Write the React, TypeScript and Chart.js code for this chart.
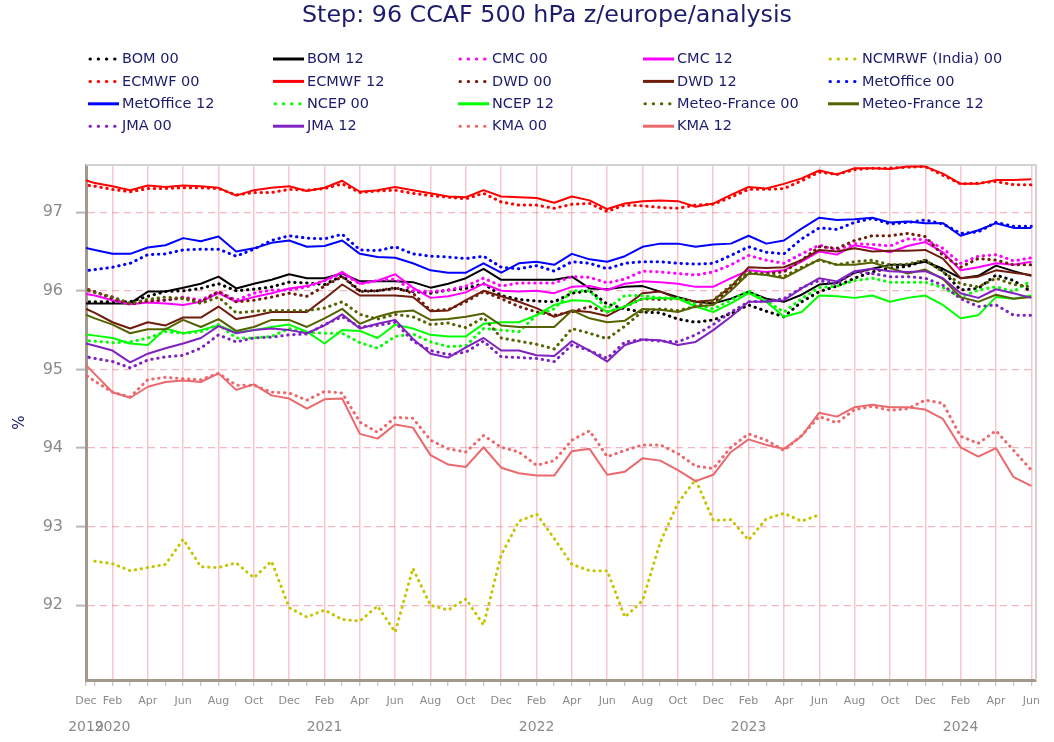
import React, { useEffect, useRef } from 'react';
import { Chart, registerables } from 'chart.js';

Chart.register(...registerables);

// ---------- data ----------
const DATES = [
  '2019-12',
  '2020-01', '2020-02', '2020-03', '2020-04', '2020-05', '2020-06', '2020-07', '2020-08', '2020-09', '2020-10', '2020-11', '2020-12',
  '2021-01', '2021-02', '2021-03', '2021-04', '2021-05', '2021-06', '2021-07', '2021-08', '2021-09', '2021-10', '2021-11', '2021-12',
  '2022-01', '2022-02', '2022-03', '2022-04', '2022-05', '2022-06', '2022-07', '2022-08', '2022-09', '2022-10', '2022-11', '2022-12',
  '2023-01', '2023-02', '2023-03', '2023-04', '2023-05', '2023-06', '2023-07', '2023-08', '2023-09', '2023-10', '2023-11', '2023-12',
  '2024-01', '2024-02', '2024-03', '2024-04', '2024-05', '2024-06',
];

const BOM_00 = [95.86, 95.86, 95.86, 95.86, 95.93, 95.99, 96.00, 96.03, 96.09, 96.00, 96.02, 96.05, 96.11, 96.10, 96.08, 96.19, 96.00, 96.00, 96.03, 95.99, 95.97, 96.01, 96.03, 96.09, 95.94, 95.89, 95.87, 95.86, 95.97, 96.00, 95.83, 95.77, 95.73, 95.72, 95.64, 95.60, 95.63, 95.71, 95.82, 95.74, 95.67, 95.86, 95.99, 96.06, 96.16, 96.24, 96.29, 96.31, 96.39, 96.25, 96.01, 96.03, 96.20, 96.13, 95.99];
const BOM_12 = [95.84, 95.84, 95.84, 95.84, 95.99, 95.99, 96.04, 96.09, 96.18, 96.03, 96.09, 96.14, 96.21, 96.16, 96.16, 96.22, 96.12, 96.12, 96.12, 96.11, 96.04, 96.09, 96.16, 96.28, 96.14, 96.14, 96.14, 96.14, 96.18, 96.03, 96.02, 96.05, 96.06, 95.99, 95.92, 95.86, 95.84, 95.90, 95.99, 95.90, 95.86, 95.95, 96.08, 96.10, 96.23, 96.28, 96.33, 96.33, 96.37, 96.28, 96.16, 96.19, 96.32, 96.25, 96.19];
const CMC_00 = [96.03, 95.98, 95.92, 95.83, 95.87, 95.88, 95.92, 95.88, 95.99, 95.88, 95.97, 96.01, 96.01, 96.05, 96.13, 96.22, 96.09, 96.13, 96.15, 96.00, 95.99, 96.01, 96.06, 96.16, 96.06, 96.10, 96.10, 96.10, 96.18, 96.17, 96.10, 96.15, 96.25, 96.24, 96.22, 96.20, 96.24, 96.33, 96.45, 96.39, 96.35, 96.47, 96.58, 96.52, 96.60, 96.59, 96.57, 96.66, 96.65, 96.54, 96.35, 96.44, 96.46, 96.38, 96.42];
const CMC_12 = [95.98, 95.94, 95.88, 95.83, 95.85, 95.84, 95.82, 95.86, 95.97, 95.86, 95.92, 95.97, 96.03, 96.06, 96.13, 96.24, 96.09, 96.13, 96.21, 96.04, 95.91, 95.93, 95.98, 96.09, 96.00, 95.99, 96.00, 95.97, 96.05, 96.06, 96.01, 96.09, 96.12, 96.11, 96.09, 96.05, 96.05, 96.16, 96.26, 96.24, 96.26, 96.37, 96.50, 96.46, 96.58, 96.54, 96.49, 96.57, 96.62, 96.49, 96.26, 96.30, 96.35, 96.33, 96.37];
const NCMRWF_00 = [null, 92.56, 92.53, 92.44, 92.48, 92.52, 92.84, 92.49, 92.48, 92.54, 92.35, 92.56, 91.97, 91.85, 91.94, 91.82, 91.80, 91.99, 91.66, 92.47, 92.00, 91.94, 92.08, 91.75, 92.64, 93.07, 93.16, 92.85, 92.52, 92.44, 92.44, 91.85, 92.06, 92.80, 93.30, 93.60, 93.08, 93.09, 92.83, 93.10, 93.17, 93.07, 93.15, null, null, null, null, null, null, null, null, null, null, null, null];
const ECMWF_00 = [97.36, 97.33, 97.29, 97.26, 97.30, 97.30, 97.31, 97.31, 97.30, 97.22, 97.25, 97.25, 97.29, 97.28, 97.30, 97.36, 97.25, 97.27, 97.28, 97.24, 97.21, 97.19, 97.17, 97.24, 97.13, 97.09, 97.09, 97.05, 97.10, 97.11, 97.01, 97.09, 97.08, 97.06, 97.05, 97.09, 97.10, 97.19, 97.29, 97.29, 97.30, 97.40, 97.51, 97.48, 97.54, 97.56, 97.56, 97.57, 97.58, 97.47, 97.36, 97.37, 97.39, 97.35, 97.35];
const ECMWF_12 = [97.44, 97.37, 97.33, 97.28, 97.34, 97.32, 97.34, 97.33, 97.31, 97.21, 97.28, 97.31, 97.33, 97.27, 97.31, 97.40, 97.26, 97.28, 97.32, 97.28, 97.24, 97.20, 97.19, 97.28, 97.20, 97.19, 97.18, 97.12, 97.20, 97.15, 97.04, 97.11, 97.14, 97.15, 97.14, 97.07, 97.11, 97.22, 97.32, 97.30, 97.36, 97.43, 97.53, 97.48, 97.56, 97.56, 97.55, 97.58, 97.58, 97.49, 97.36, 97.36, 97.41, 97.41, 97.42];
const DWD_00 = [96.06, 95.99, 95.90, 95.83, 95.87, 95.88, 95.91, 95.86, 95.99, 95.86, 95.88, 95.92, 95.97, 95.93, 96.06, 96.18, 95.99, 96.00, 96.04, 95.97, 95.75, 95.76, 95.86, 95.99, 95.90, 95.80, 95.73, 95.69, 95.73, 95.80, 95.73, 95.80, 95.90, 95.89, 95.90, 95.86, 95.84, 96.03, 96.22, 96.22, 96.24, 96.39, 96.56, 96.54, 96.64, 96.70, 96.70, 96.73, 96.69, 96.45, 96.30, 96.41, 96.39, 96.33, 96.33];
const DWD_12 = [95.82, 95.72, 95.60, 95.52, 95.60, 95.56, 95.66, 95.66, 95.80, 95.64, 95.68, 95.73, 95.73, 95.73, 95.90, 96.08, 95.94, 95.94, 95.94, 95.92, 95.74, 95.75, 95.88, 96.00, 95.93, 95.86, 95.78, 95.67, 95.75, 95.73, 95.68, 95.80, 95.97, 95.99, 95.90, 95.86, 95.88, 96.05, 96.30, 96.29, 96.30, 96.39, 96.52, 96.50, 96.54, 96.50, 96.51, 96.51, 96.52, 96.41, 96.16, 96.18, 96.26, 96.23, 96.20];
const METOFFICE_00 = [96.24, 96.27, 96.30, 96.35, 96.46, 96.47, 96.52, 96.53, 96.53, 96.44, 96.53, 96.64, 96.70, 96.67, 96.66, 96.72, 96.52, 96.51, 96.56, 96.47, 96.44, 96.43, 96.41, 96.44, 96.30, 96.28, 96.32, 96.25, 96.37, 96.35, 96.28, 96.35, 96.37, 96.37, 96.35, 96.34, 96.35, 96.45, 96.56, 96.49, 96.47, 96.66, 96.80, 96.78, 96.87, 96.92, 96.85, 96.87, 96.90, 96.85, 96.73, 96.75, 96.87, 96.82, 96.82];
const METOFFICE_12 = [96.57, 96.52, 96.47, 96.47, 96.55, 96.58, 96.67, 96.63, 96.69, 96.50, 96.54, 96.61, 96.64, 96.56, 96.57, 96.64, 96.47, 96.43, 96.42, 96.35, 96.26, 96.23, 96.23, 96.35, 96.23, 96.35, 96.37, 96.33, 96.47, 96.40, 96.37, 96.44, 96.56, 96.60, 96.60, 96.56, 96.59, 96.60, 96.70, 96.60, 96.64, 96.79, 96.93, 96.90, 96.91, 96.93, 96.87, 96.88, 96.86, 96.86, 96.70, 96.77, 96.86, 96.80, 96.80];
const NCEP_00 = [95.37, 95.36, 95.34, 95.35, 95.40, 95.48, 95.46, 95.48, 95.57, 95.40, 95.40, 95.42, 95.52, 95.47, 95.46, 95.46, 95.34, 95.27, 95.42, 95.45, 95.35, 95.29, 95.30, 95.52, 95.50, 95.48, 95.69, 95.77, 96.00, 96.00, 95.77, 95.94, 95.94, 95.91, 95.91, 95.83, 95.77, 95.88, 96.00, 95.87, 95.73, 95.90, 96.04, 96.06, 96.13, 96.16, 96.11, 96.11, 96.11, 96.04, 95.92, 96.01, 96.05, 95.99, 96.13];
const NCEP_12 = [95.46, 95.43, 95.40, 95.33, 95.31, 95.52, 95.46, 95.50, 95.56, 95.47, 95.50, 95.54, 95.57, 95.48, 95.33, 95.50, 95.49, 95.40, 95.57, 95.52, 95.44, 95.42, 95.42, 95.58, 95.60, 95.60, 95.69, 95.82, 95.88, 95.87, 95.73, 95.80, 95.90, 95.91, 95.90, 95.80, 95.73, 95.84, 95.97, 95.86, 95.67, 95.73, 95.94, 95.93, 95.91, 95.94, 95.86, 95.91, 95.94, 95.82, 95.65, 95.69, 95.92, 95.90, 95.94];
const METEOFRANCE_00 = [96.05, 95.98, 95.92, 95.84, 95.89, 95.92, 95.90, 95.84, 95.92, 95.72, 95.74, 95.75, 95.75, 95.75, 95.78, 95.86, 95.70, 95.64, 95.70, 95.67, 95.57, 95.59, 95.53, 95.66, 95.40, 95.36, 95.32, 95.26, 95.52, 95.46, 95.39, 95.55, 95.74, 95.77, 95.75, 95.80, 95.88, 96.07, 96.24, 96.21, 96.18, 96.30, 96.39, 96.33, 96.37, 96.39, 96.33, 96.34, 96.39, 96.24, 96.09, 96.05, 96.16, 96.08, 96.05];
const METEOFRANCE_12 = [95.74, 95.65, 95.57, 95.46, 95.51, 95.51, 95.63, 95.54, 95.64, 95.49, 95.54, 95.63, 95.63, 95.54, 95.65, 95.77, 95.58, 95.67, 95.73, 95.75, 95.63, 95.64, 95.67, 95.71, 95.56, 95.54, 95.54, 95.54, 95.75, 95.65, 95.60, 95.62, 95.77, 95.76, 95.73, 95.80, 95.82, 96.00, 96.22, 96.20, 96.16, 96.28, 96.40, 96.33, 96.33, 96.36, 96.29, 96.22, 96.27, 96.15, 95.92, 95.86, 95.95, 95.90, 95.92];
const JMA_00 = [95.18, 95.14, 95.10, 95.02, 95.12, 95.16, 95.18, 95.27, 95.44, 95.35, 95.40, 95.41, 95.44, 95.45, 95.57, 95.67, 95.54, 95.56, 95.60, 95.36, 95.24, 95.19, 95.22, 95.36, 95.16, 95.15, 95.14, 95.10, 95.31, 95.24, 95.14, 95.35, 95.38, 95.36, 95.35, 95.44, 95.57, 95.73, 95.86, 95.87, 95.90, 96.04, 96.13, 96.09, 96.24, 96.22, 96.18, 96.18, 96.16, 96.07, 95.90, 95.80, 95.82, 95.69, 95.69];
const JMA_12 = [95.36, 95.30, 95.24, 95.09, 95.20, 95.27, 95.33, 95.40, 95.55, 95.46, 95.50, 95.52, 95.50, 95.46, 95.56, 95.70, 95.52, 95.58, 95.63, 95.39, 95.20, 95.15, 95.28, 95.40, 95.24, 95.24, 95.18, 95.17, 95.36, 95.24, 95.10, 95.31, 95.38, 95.37, 95.31, 95.35, 95.50, 95.67, 95.86, 95.86, 95.88, 96.03, 96.16, 96.12, 96.25, 96.28, 96.25, 96.24, 96.25, 96.16, 95.97, 95.91, 96.02, 95.97, 95.91];
const KMA_00 = [95.00, 94.85, 94.71, 94.65, 94.87, 94.90, 94.88, 94.87, 94.95, 94.80, 94.80, 94.71, 94.70, 94.61, 94.72, 94.70, 94.33, 94.20, 94.39, 94.38, 94.10, 93.99, 93.95, 94.16, 94.01, 93.95, 93.78, 93.84, 94.10, 94.22, 93.89, 93.97, 94.04, 94.04, 93.93, 93.77, 93.74, 94.01, 94.18, 94.10, 93.97, 94.16, 94.40, 94.32, 94.49, 94.53, 94.48, 94.50, 94.61, 94.57, 94.15, 94.06, 94.22, 93.97, 93.72];
const KMA_12 = [95.17, 94.94, 94.71, 94.64, 94.78, 94.84, 94.86, 94.84, 94.95, 94.74, 94.81, 94.67, 94.63, 94.50, 94.62, 94.63, 94.18, 94.12, 94.30, 94.26, 93.91, 93.79, 93.76, 94.01, 93.75, 93.68, 93.65, 93.65, 93.96, 93.99, 93.66, 93.70, 93.87, 93.84, 93.72, 93.58, 93.66, 93.95, 94.11, 94.04, 93.99, 94.15, 94.45, 94.40, 94.52, 94.55, 94.52, 94.52, 94.49, 94.37, 94.01, 93.89, 94.00, 93.63, 93.52];

const SERIES_LABELS = [
  'BOM 00', 'BOM 12', 'CMC 00', 'CMC 12', 'NCMRWF (India) 00',
  'ECMWF 00', 'ECMWF 12', 'DWD 00', 'DWD 12', 'MetOffice 00',
  'MetOffice 12', 'NCEP 00', 'NCEP 12', 'Meteo-France 00', 'Meteo-France 12',
  'JMA 00', 'JMA 12', 'KMA 00', 'KMA 12',
];
const SERIES_VALUES = [
  BOM_00, BOM_12, CMC_00, CMC_12, NCMRWF_00,
  ECMWF_00, ECMWF_12, DWD_00, DWD_12, METOFFICE_00,
  METOFFICE_12, NCEP_00, NCEP_12, METEOFRANCE_00, METEOFRANCE_12,
  JMA_00, JMA_12, KMA_00, KMA_12,
];
const SERIES_COLORS = [
  '#000000', '#000000', '#ff00ff', '#ff00ff', '#c4c400',
  '#ff0000', '#ff0000', '#6e1c0c', '#6e1c0c', '#0000ff',
  '#0000ff', '#00ff00', '#00ff00', '#556200', '#556200',
  '#7f22c0', '#7f22c0', '#eb686c', '#eb686c',
];
const SERIES_DOTTED = [
  true, false, true, false, true,
  true, false, true, false, true,
  false, true, false, true, false,
  true, false, true, false,
];

const AXIS_START = '2019-12-16';
const AXIS_END = '2024-06-09';
const MONTH_NAMES = ['Jan', 'Feb', 'Mar', 'Apr', 'May', 'Jun', 'Jul', 'Aug', 'Sep', 'Oct', 'Nov', 'Dec'];
const YEAR_TICK_DATES = ['2019-12-16', '2020-02', '2021-02', '2022-02', '2023-02', '2024-02'];
const YEAR_TICK_LABELS = ['2019', '2020', '2021', '2022', '2023', '2024'];
const Y_TICKS = [92, 93, 94, 95, 96, 97];
const Y_MIN = 91.05;
const Y_MAX = 97.6;

const TITLE = 'Step: 96 CCAF 500 hPa z/europe/analysis';
const Y_TITLE = '%';

// ---------- helpers ----------
const monthPos = (s: string) => {
  const [y, m, d] = s.split('-').map(Number);
  return (y - 2019) * 12 + (m - 12) + ((d || 1) - 1) / 30;
};
const X_MIN = monthPos(AXIS_START);
const X_MAX = monthPos(AXIS_END);

const NAVY = '#1c1c6c';
const GRAY_TEXT = '#8a8a8a';
const AXIS_COLOR = '#a2988c';
const VGRID = 'rgba(238, 120, 135, 0.42)';
const HGRID = 'rgba(240, 110, 130, 0.5)';
const FONT = "'DejaVu Sans', sans-serif";

// month ticks: start of axis + every month
const MONTH_TICKS: { v: number; label: string; major: boolean }[] = [
  { v: X_MIN, label: 'Dec', major: false },
  ...DATES.slice(1).map((d) => {
    const m = Number(d.split('-')[1]);
    const major = m % 2 === 0;
    return { v: monthPos(d), label: major ? MONTH_NAMES[m - 1] : '', major };
  }),
];
const YEAR_TICKS = YEAR_TICK_DATES.map((d, i) => ({ v: monthPos(d), label: YEAR_TICK_LABELS[i] }));

const findTick = (arr: { v: number }[], v: number) => arr.find((t) => Math.abs(t.v - v) < 1e-6);

const overlayPlugin = {
  id: 'overlay',
  beforeDatasetsDraw(chart: any) {
    const { ctx, chartArea: a } = chart;
    ctx.save();
    ctx.strokeStyle = '#d2d2d2';
    ctx.lineWidth = 2;
    ctx.beginPath();
    ctx.moveTo(a.left, a.top);
    ctx.lineTo(a.right, a.top);
    ctx.lineTo(a.right, a.bottom);
    ctx.stroke();
    ctx.restore();
  },
  afterDraw(chart: any) {
    const { ctx } = chart;
    ctx.save();
    // title
    ctx.fillStyle = NAVY;
    ctx.font = `23.8px ${FONT}`;
    ctx.textAlign = 'center';
    ctx.textBaseline = 'middle';
    ctx.fillText(TITLE, 547, 16);
    // legend grid (5 columns)
    ctx.textAlign = 'left';
    ctx.font = `14.5px ${FONT}`;
    chart.data.datasets.forEach((ds: any, i: number) => {
      const col = i % 5;
      const row = Math.floor(i / 5);
      const x0 = 88 + col * 185;
      const y = 59 + row * 22.4;
      const dotted = ds.borderDash && ds.borderDash.length;
      ctx.strokeStyle = ds.borderColor;
      ctx.lineWidth = 3;
      ctx.setLineDash(dotted ? [0.4, 7.8] : []);
      ctx.lineCap = dotted ? 'round' : 'butt';
      ctx.beginPath();
      ctx.moveTo(dotted ? x0 + 2 : x0, y);
      ctx.lineTo(x0 + 31, y);
      ctx.stroke();
      ctx.setLineDash([]);
      ctx.fillStyle = NAVY;
      ctx.fillText(ds.label, x0 + 34, y + 0.5);
    });
    ctx.restore();
  },
};

export default function App() {
  const canvasRef = useRef<HTMLCanvasElement | null>(null);

  useEffect(() => {
    if (!canvasRef.current) return;
    Chart.defaults.font.family = FONT;

    const datasets = SERIES_LABELS.map((label, i) => {
      const dotted = SERIES_DOTTED[i];
      return {
        label,
        data: DATES.map((d, j) => ({ x: monthPos(d), y: SERIES_VALUES[i][j] })),
        borderColor: SERIES_COLORS[i],
        backgroundColor: SERIES_COLORS[i],
        borderWidth: dotted ? 3 : 2,
        borderDash: dotted ? [0.4, 5.6] : [],
        borderCapStyle: dotted ? 'round' : 'butt',
        borderJoinStyle: 'round',
        pointRadius: 0,
        fill: false,
        tension: 0,
        spanGaps: false,
        order: 100 - i,
      };
    });

    const chart = new Chart(canvasRef.current, {
      type: 'line',
      data: { datasets } as any,
      plugins: [overlayPlugin],
      options: {
        animation: false,
        responsive: true,
        maintainAspectRatio: false,
        events: [],
        layout: { padding: { top: 165, right: 18, bottom: 0, left: 0 } },
        plugins: {
          legend: { display: false },
          title: { display: false },
          tooltip: { enabled: false },
        },
        scales: {
          x: {
            type: 'linear',
            position: 'bottom',
            min: X_MIN,
            max: X_MAX,
            bounds: 'data',
            weight: 0,
            afterBuildTicks: (s: any) => {
              s.ticks = MONTH_TICKS.map((t) => ({ value: t.v }));
            },
            afterFit: (s: any) => {
              s.height = 36;
            },
            ticks: {
              autoSkip: false,
              maxRotation: 0,
              minRotation: 0,
              padding: 9,
              color: GRAY_TEXT,
              font: { size: 11 },
              callback: (v: any) => {
                const t = findTick(MONTH_TICKS, Number(v)) as any;
                return t ? t.label : '';
              },
            },
            grid: {
              color: (ctx: any) => {
                const t = ctx.tick ? (findTick(MONTH_TICKS, ctx.tick.value) as any) : null;
                return t && t.major ? VGRID : 'rgba(0,0,0,0)';
              },
              lineWidth: 1.5,
              tickLength: 6,
              tickColor: '#b4b4b4',
              tickWidth: 1,
            },
            border: { color: AXIS_COLOR, width: 3 },
          },
          x2: {
            type: 'linear',
            position: 'bottom',
            min: X_MIN,
            max: X_MAX,
            bounds: 'data',
            weight: 1,
            afterBuildTicks: (s: any) => {
              s.ticks = YEAR_TICKS.map((t) => ({ value: t.v }));
            },
            afterFit: (s: any) => {
              s.height = 26;
            },
            ticks: {
              autoSkip: false,
              maxRotation: 0,
              minRotation: 0,
              padding: 3,
              color: GRAY_TEXT,
              font: { size: 14 },
              callback: (v: any) => {
                const t = findTick(YEAR_TICKS, Number(v)) as any;
                return t ? t.label : '';
              },
            },
            grid: { display: false, drawTicks: false },
            border: { display: false },
          },
          y: {
            type: 'linear',
            min: Y_MIN,
            max: Y_MAX,
            bounds: 'data',
            afterBuildTicks: (s: any) => {
              s.ticks = Y_TICKS.map((v) => ({ value: v }));
            },
            afterFit: (s: any) => {
              s.width = 86;
            },
            ticks: {
              color: GRAY_TEXT,
              font: { size: 16 },
              padding: 13,
              callback: (v: any) => String(v),
            },
            grid: {
              color: HGRID,
              lineWidth: 1.2,
              tickLength: 10,
              tickColor: '#b8b8b8',
              tickWidth: 2,
            },
            border: { color: AXIS_COLOR, width: 3, dash: [7, 5] },
            title: {
              display: true,
              text: Y_TITLE,
              color: NAVY,
              font: { size: 15 },
              padding: { top: 11, bottom: 0 },
            },
          },
        },
      } as any,
    });

    return () => chart.destroy();
  }, []);

  return (
    <div style={{ position: 'absolute', left: 0, top: 0, width: 1054, height: 742, background: '#fff' }}>
      <canvas ref={canvasRef} />
    </div>
  );
}
